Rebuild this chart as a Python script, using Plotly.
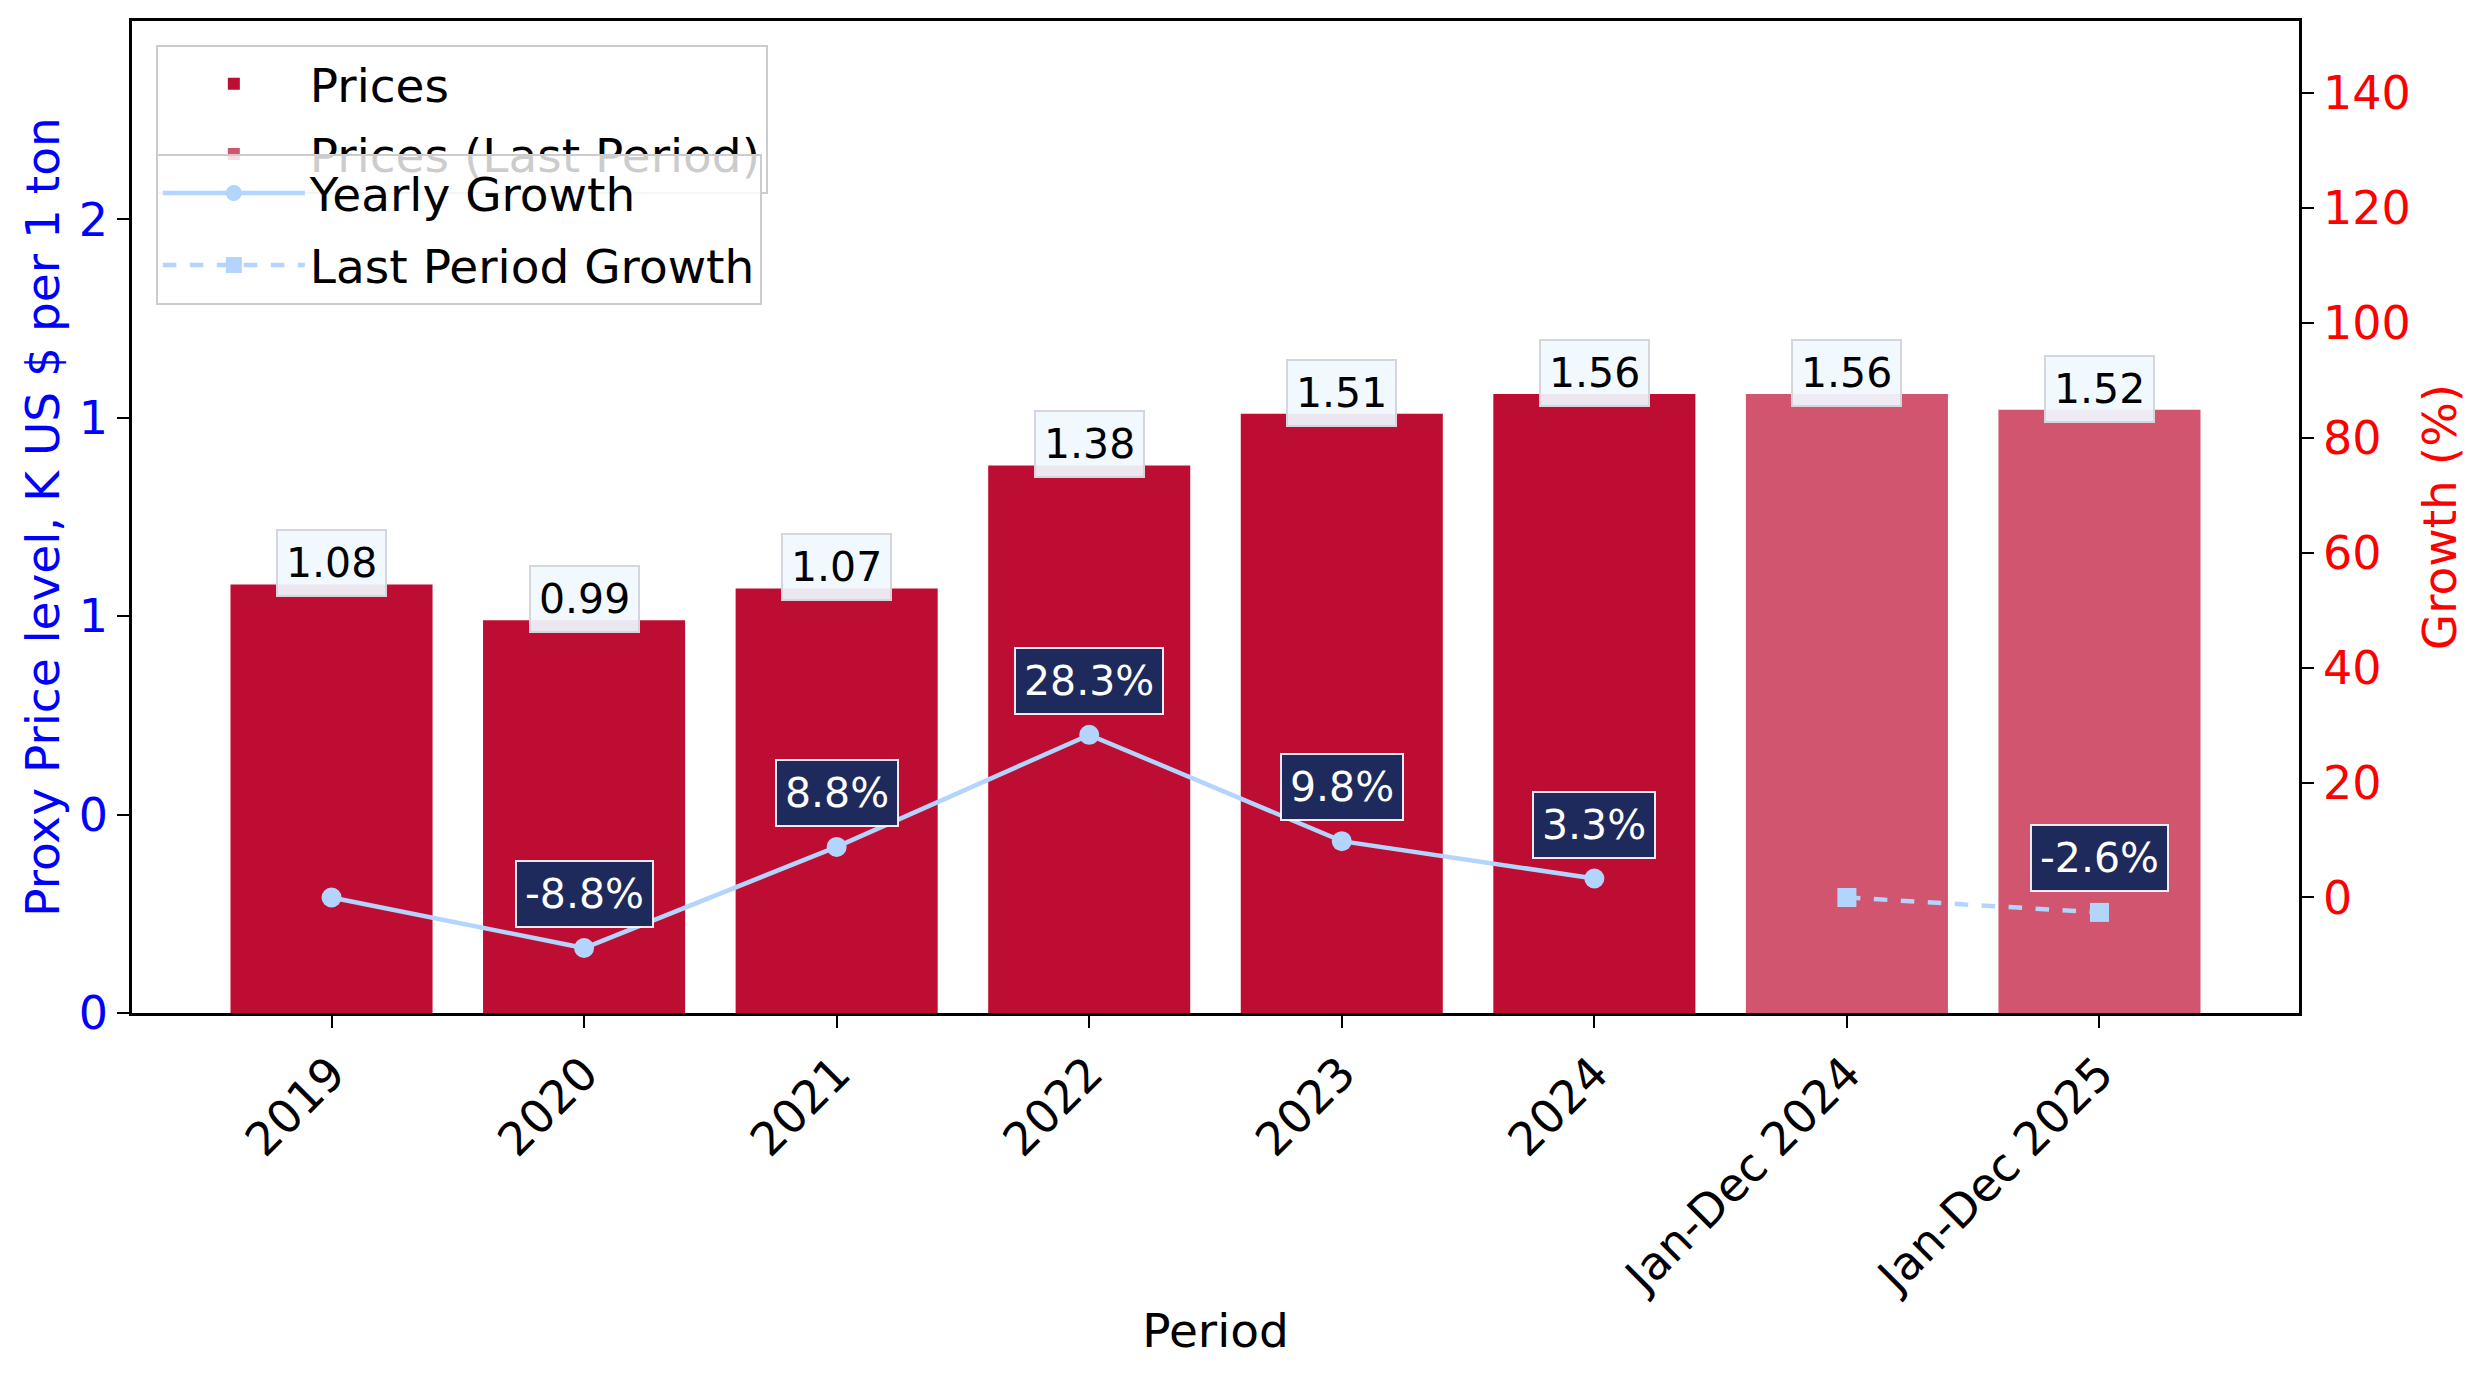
import plotly.graph_objects as go

# ---- data ----
periods = ["2019", "2020", "2021", "2022", "2023", "2024", "Jan-Dec 2024", "Jan-Dec 2025"]
yearly_periods = ["2019", "2020", "2021", "2022", "2023", "2024"]
last_periods = ["Jan-Dec 2024", "Jan-Dec 2025"]
yearly_prices = [1.08, 0.99, 1.07, 1.38, 1.51, 1.56]
last_prices = [1.56, 1.52]
yearly_growth = [0.0, -8.8, 8.8, 28.3, 9.8, 3.3]
last_growth = [0.0, -2.6]
yearly_growth_labels = [None, "-8.8%", "8.8%", "28.3%", "9.8%", "3.3%"]
last_growth_labels = [None, "-2.6%"]
left_tickvals = [0, 0.5, 1.0, 1.5, 2.0]
left_ticktext = ["0", "0", "1", "1", "2"]
right_tickvals = [0, 20, 40, 60, 80, 100, 120, 140]

FONT = "DejaVu Sans"
BAR = "#BD0D32"
BAR_LAST = "rgba(189,13,50,0.7)"
LINE = "#B3D4FC"
NAVY = "#1F2A5C"

fig = go.Figure()
fig.add_trace(go.Bar(x=yearly_periods, y=yearly_prices, name="Prices",
                     marker=dict(color=BAR, line=dict(width=0)), legend="legend",
                     legendgroup="a"))
fig.add_trace(go.Bar(x=last_periods, y=last_prices, name="Prices (Last Period)",
                     marker=dict(color=BAR_LAST, line=dict(width=0)), legend="legend",
                     legendgroup="b"))
fig.add_trace(go.Scatter(x=yearly_periods, y=yearly_growth, name="Yearly Growth",
                         mode="lines+markers", yaxis="y2",
                         line=dict(color=LINE, width=4.5),
                         marker=dict(symbol="circle", size=20, color=LINE),
                         legend="legend2", legendgroup="c"))
fig.add_trace(go.Scatter(x=last_periods, y=last_growth, name="Last Period Growth",
                         mode="lines+markers", yaxis="y2",
                         line=dict(color=LINE, width=4.5, dash="dash"),
                         marker=dict(symbol="square", size=19, color=LINE),
                         legend="legend2", legendgroup="d"))

annotations = []
for cat, v in zip(yearly_periods + last_periods, yearly_prices + last_prices):
    annotations.append(dict(x=periods.index(cat), y=v, xref="x", yref="y", text=f"{v:.2f}",
                            showarrow=False, yanchor="middle", yshift=21,
                            font=dict(family=FONT, size=41, color="black"),
                            bgcolor="rgba(240,248,255,0.92)", bordercolor="#D5D5DD",
                            borderwidth=2, borderpad=8))
for cats, vals, labs in [(yearly_periods, yearly_growth, yearly_growth_labels),
                         (last_periods, last_growth, last_growth_labels)]:
    for cat, v, lab in zip(cats, vals, labs):
        if lab is None:
            continue
        annotations.append(dict(x=periods.index(cat), y=v, xref="x", yref="y2", text=lab,
                                showarrow=False, yanchor="middle", yshift=54,
                                font=dict(family=FONT, size=41, color="white"),
                                bgcolor=NAVY, bordercolor="rgba(255,255,255,0.9)",
                                borderwidth=2, borderpad=8))

fig.update_layout(
    width=2490, height=1375,
    margin=dict(l=132, r=191, t=21, b=362),
    paper_bgcolor="white", plot_bgcolor="white",
    font=dict(family=FONT, size=46, color="black"),
    barmode="overlay", bargap=0.2,
    showlegend=True,
    annotations=annotations,
    xaxis=dict(type="category", categoryorder="array", categoryarray=periods,
               range=[-0.79, 7.79], tickangle=-45,
               tickfont=dict(family=FONT, size=46, color="black"),
               ticks="outside", ticklen=12, tickwidth=2, tickcolor="black",
               showline=True, linecolor="black", linewidth=2.5, mirror=True,
               showgrid=False, zeroline=False,
               title=dict(text="Period", font=dict(family=FONT, size=47, color="black"), standoff=12)),
    yaxis=dict(range=[0, 2.5], tickvals=left_tickvals, ticktext=left_ticktext,
               tickfont=dict(family=FONT, size=46, color="blue"),
               ticks="outside", ticklen=12, tickwidth=2, tickcolor="black",
               showline=True, linecolor="black", linewidth=2.5,
               showgrid=False, zeroline=False,
               title=dict(text="Proxy Price level, K US $ per 1 ton",
                          font=dict(family=FONT, size=47, color="blue"), standoff=5)),
    yaxis2=dict(range=[-20.1, 152.5], tickvals=right_tickvals, overlaying="y", side="right",
                tickfont=dict(family=FONT, size=46, color="red"),
                ticks="outside", ticklen=12, tickwidth=2, tickcolor="black",
                showline=True, linecolor="black", linewidth=2.5,
                showgrid=False, zeroline=False,
                title=dict(text="Growth (%)", font=dict(family=FONT, size=47, color="red"), standoff=14)),
    legend=dict(x=0.011, y=0.976, xanchor="left", yanchor="top",
                bgcolor="rgba(255,255,255,0.8)", bordercolor="#CCCCCC", borderwidth=2,
                font=dict(family=FONT, size=47, color="black"), itemwidth=142,
                tracegroupgap=6),
    legend2=dict(x=0.011, y=0.866, xanchor="left", yanchor="top",
                 bgcolor="rgba(255,255,255,0.8)", bordercolor="#CCCCCC", borderwidth=2,
                 font=dict(family=FONT, size=47, color="black"), itemwidth=142,
                 tracegroupgap=8),
)

fig.write_html("out.html")
